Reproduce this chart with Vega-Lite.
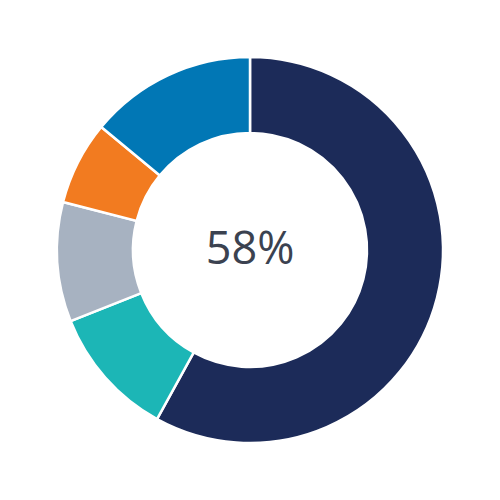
{
  "$schema": "https://vega.github.io/schema/vega-lite/v6.json",
  "width": 500,
  "height": 500,
  "autosize": {"type": "fit", "contains": "padding"},
  "padding": 0,
  "background": "white",
  "view": {"stroke": null},
  "data": {
    "values": [
      {"segment": "A", "order": 1, "share": 0.58},
      {"segment": "B", "order": 2, "share": 0.11},
      {"segment": "C", "order": 3, "share": 0.10},
      {"segment": "D", "order": 4, "share": 0.07},
      {"segment": "E", "order": 5, "share": 0.14}
    ]
  },
  "layer": [
    {
      "mark": {"type": "arc", "outerRadius": 193, "innerRadius": 117, "stroke": "white", "strokeWidth": 2.5},
      "encoding": {
        "theta": {"field": "share", "type": "quantitative", "stack": true},
        "order": {"field": "order", "type": "quantitative", "sort": "ascending"},
        "color": {
          "field": "segment",
          "type": "nominal",
          "legend": null,
          "scale": {
            "domain": ["A", "B", "C", "D", "E"],
            "range": ["#1c2b59", "#1cb6b6", "#a7b2c1", "#f27b20", "#0177b5"]
          }
        }
      }
    },
    {
      "transform": [{"filter": "datum.order == 1"}],
      "mark": {"type": "text", "font": "Open Sans", "fontSize": 45, "color": "#3b4250", "align": "center", "baseline": "middle", "dy": 0},
      "encoding": {
        "text": {"field": "share", "type": "quantitative", "format": ".0%"}
      }
    }
  ]
}
